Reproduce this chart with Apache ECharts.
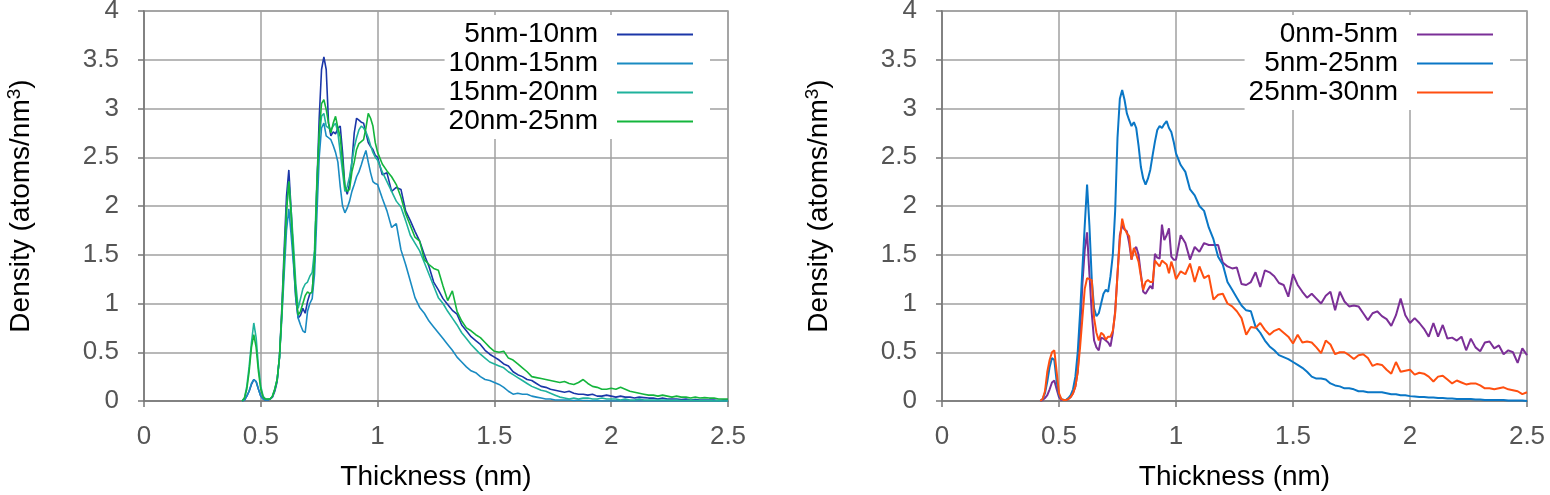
<!DOCTYPE html>
<html><head><meta charset="utf-8">
<script src="https://cdn.jsdelivr.net/npm/echarts@6/dist/echarts.min.js"></script>
<style>html,body{margin:0;padding:0;background:#fff}#c{width:1550px;height:495px}</style>
</head><body><div id="c"></div>
<script>
// Thickness (nm) sample positions
const thickness = [
0.42,0.43,0.44,0.45,0.46,0.47,0.48,0.49,0.50,0.51,
0.52,0.53,0.54,0.55,0.56,0.57,0.58,0.59,0.60,0.61,
0.62,0.63,0.64,0.65,0.66,0.67,0.68,0.69,0.70,0.71,
0.72,0.73,0.74,0.75,0.76,0.77,0.78,0.79,0.80,0.81,
0.82,0.83,0.84,0.85,0.86,0.87,0.88,0.89,0.90,0.91,
0.92,0.93,0.94,0.95,0.96,0.97,0.98,0.99,1.00,
1.02,1.04,1.06,1.08,1.10,1.12,1.14,1.16,1.18,1.20,
1.22,1.24,1.26,1.28,1.30,1.32,1.34,1.36,1.38,1.40,
1.42,1.44,1.46,1.48,1.50,1.52,1.54,1.56,1.58,1.60,
1.62,1.64,1.66,1.68,1.70,1.72,1.74,1.76,1.78,1.80,
1.82,1.84,1.86,1.88,1.90,1.92,1.94,1.96,1.98,2.00,
2.02,2.04,2.06,2.08,2.10,2.12,2.14,2.16,2.18,2.20,
2.22,2.24,2.26,2.28,2.30,2.32,2.34,2.36,2.38,2.40,
2.42,2.44,2.46,2.48,2.50];

// Left panel
const d5to10 = [
0,0.01,0.05,0.10,0.17,0.22,0.20,0.12,0.05,0.02,
0.01,0.01,0.02,0.04,0.10,0.20,0.45,0.95,1.55,2.10,
2.37,1.95,1.45,1.05,0.85,0.88,0.95,0.90,1.02,1.10,
1.12,1.45,2.20,2.90,3.40,3.53,3.40,2.85,2.72,2.76,
2.74,2.80,2.82,2.55,2.20,2.12,2.23,2.45,2.75,2.90,
2.88,2.86,2.85,2.75,2.65,2.61,2.58,2.52,2.50,
2.32,2.34,2.15,2.19,2.17,1.95,1.85,1.74,1.64,1.50,
1.38,1.22,1.14,1.05,0.99,0.93,0.89,0.78,0.72,0.66,
0.62,0.58,0.52,0.48,0.45,0.42,0.38,0.36,0.30,0.27,
0.25,0.22,0.21,0.18,0.15,0.14,0.12,0.11,0.10,0.09,
0.10,0.08,0.07,0.07,0.06,0.07,0.05,0.05,0.06,0.05,
0.04,0.05,0.04,0.04,0.03,0.04,0.035,0.03,0.03,0.02,
0.03,0.02,0.02,0.02,0.015,0.02,0.01,0.015,0.01,0.01,
0.01,0.01,0.005,0.01,0.01];
const d10to15 = [
0,0.01,0.05,0.10,0.18,0.22,0.20,0.12,0.05,0.02,
0.01,0.01,0.02,0.05,0.12,0.22,0.45,0.85,1.30,1.75,
1.97,1.70,1.40,1.05,0.85,0.78,0.72,0.70,0.92,1.00,
1.05,1.30,1.90,2.50,2.80,2.85,2.72,2.70,2.68,2.62,
2.55,2.45,2.20,2.00,1.93,1.98,2.05,2.15,2.22,2.30,
2.35,2.42,2.50,2.57,2.45,2.34,2.25,2.23,2.22,
2.08,1.95,1.78,1.82,1.55,1.40,1.23,1.06,0.96,0.90,
0.82,0.76,0.70,0.64,0.58,0.52,0.45,0.40,0.35,0.31,
0.29,0.25,0.22,0.21,0.19,0.17,0.14,0.10,0.07,0.08,
0.07,0.07,0.05,0.04,0.03,0.02,0.02,0.01,0.01,0.01,
0.01,0.005,0.01,0.005,0.005,0,0.005,0,0,0,
0,0,0,0,0,0,0,0,0,0,
0,0,0,0,0,0,0,0,0,0,
0,0,0,0,0];
const d15to20 = [
0,0.03,0.15,0.35,0.60,0.80,0.65,0.35,0.15,0.05,
0.02,0.02,0.02,0.05,0.12,0.22,0.45,0.90,1.45,1.95,
2.25,1.95,1.60,1.20,0.95,1.05,1.15,1.20,1.22,1.28,
1.32,1.55,2.25,2.70,2.92,2.95,2.82,2.80,2.78,2.82,
2.85,2.75,2.55,2.35,2.15,2.20,2.30,2.45,2.60,2.70,
2.78,2.82,2.80,2.76,2.70,2.62,2.55,2.50,2.47,
2.35,2.25,2.15,2.05,1.99,1.85,1.70,1.62,1.54,1.42,
1.30,1.18,1.06,1.00,0.92,0.85,0.78,0.70,0.64,0.58,
0.53,0.48,0.44,0.40,0.38,0.36,0.34,0.30,0.27,0.24,
0.21,0.18,0.15,0.13,0.11,0.10,0.08,0.06,0.04,0.03,
0.02,0.03,0.02,0.03,0.03,0.02,0.02,0.03,0.02,0.02,
0.02,0.01,0.02,0.01,0.01,0.02,0.01,0.01,0.01,0.01,
0.01,0.01,0.005,0.01,0.005,0.005,0.01,0.005,0.005,0.005,
0.005,0,0.005,0,0];
const d20to25 = [
0,0.03,0.12,0.30,0.55,0.68,0.55,0.30,0.12,0.04,
0.02,0.02,0.02,0.05,0.12,0.22,0.45,0.90,1.45,1.95,
2.25,1.90,1.50,1.10,0.88,0.92,1.00,1.08,1.12,1.10,
1.12,1.45,2.20,2.75,3.05,3.09,2.99,2.85,2.75,2.85,
2.92,2.80,2.71,2.45,2.20,2.15,2.17,2.35,2.45,2.58,
2.64,2.66,2.68,2.80,2.95,2.90,2.82,2.65,2.55,
2.43,2.36,2.30,2.22,2.09,1.92,1.80,1.68,1.64,1.45,
1.40,1.36,1.34,1.18,1.03,1.13,0.92,0.82,0.75,0.72,
0.68,0.65,0.60,0.55,0.51,0.50,0.51,0.44,0.42,0.38,
0.34,0.30,0.25,0.24,0.23,0.22,0.21,0.20,0.19,0.20,
0.18,0.17,0.19,0.22,0.18,0.15,0.14,0.12,0.12,0.13,
0.12,0.14,0.12,0.10,0.09,0.08,0.07,0.06,0.06,0.05,
0.06,0.05,0.04,0.05,0.04,0.04,0.03,0.04,0.03,0.035,
0.03,0.03,0.02,0.02,0.02];

// Right panel
const d0to5 = [
0,0.01,0.03,0.06,0.12,0.19,0.21,0.12,0.04,0.01,
0.01,0.01,0.02,0.04,0.08,0.15,0.30,0.70,1.20,1.55,
1.73,1.30,0.90,0.62,0.55,0.52,0.65,0.64,0.62,0.60,
0.56,0.70,0.92,1.30,1.70,1.80,1.76,1.74,1.62,1.45,
1.55,1.58,1.50,1.30,1.12,1.10,1.14,1.18,1.15,1.51,
1.47,1.46,1.81,1.65,1.70,1.77,1.48,1.45,1.45,
1.70,1.62,1.45,1.58,1.53,1.62,1.60,1.60,1.60,1.42,
1.38,1.36,1.37,1.20,1.19,1.22,1.32,1.17,1.34,1.32,
1.28,1.21,1.19,1.07,1.30,1.19,1.12,1.06,1.10,1.05,
1.00,1.08,1.12,0.93,1.12,1.02,0.97,0.98,0.97,0.90,
0.83,0.90,0.92,0.87,0.84,0.77,0.88,1.05,0.88,0.80,
0.85,0.80,0.74,0.66,0.80,0.66,0.78,0.64,0.65,0.62,
0.66,0.52,0.64,0.55,0.51,0.60,0.61,0.54,0.57,0.48,
0.52,0.50,0.39,0.54,0.47];
const d5to25 = [
0,0.02,0.08,0.20,0.35,0.44,0.42,0.20,0.06,0.02,
0.01,0.01,0.03,0.06,0.12,0.25,0.50,0.90,1.35,1.80,
2.22,1.80,1.25,0.95,0.87,0.90,1.00,1.10,1.14,1.12,
1.28,1.50,1.95,2.70,3.10,3.19,3.09,2.95,2.88,2.82,
2.86,2.80,2.62,2.40,2.28,2.22,2.28,2.37,2.52,2.66,
2.78,2.82,2.80,2.84,2.87,2.80,2.76,2.66,2.54,
2.42,2.35,2.17,2.11,2.00,1.95,1.78,1.66,1.48,1.40,
1.22,1.14,1.06,0.98,0.93,0.92,0.76,0.70,0.62,0.56,
0.52,0.47,0.45,0.43,0.40,0.37,0.34,0.30,0.25,0.23,
0.23,0.22,0.18,0.16,0.15,0.13,0.13,0.12,0.10,0.10,
0.09,0.09,0.09,0.09,0.08,0.07,0.07,0.06,0.06,0.05,
0.045,0.04,0.04,0.035,0.035,0.03,0.03,0.025,0.025,0.02,
0.02,0.02,0.02,0.015,0.015,0.01,0.01,0.01,0.01,0.01,
0.005,0.005,0.005,0.005,0];
const d25to30 = [
0,0.02,0.10,0.30,0.42,0.50,0.52,0.30,0.08,0.02,
0.01,0.01,0.02,0.04,0.08,0.15,0.30,0.55,0.85,1.15,
1.26,1.25,1.24,0.85,0.70,0.62,0.70,0.68,0.63,0.66,
0.66,0.72,0.90,1.30,1.65,1.87,1.77,1.72,1.69,1.45,
1.57,1.50,1.43,1.28,1.14,1.22,1.24,1.22,1.22,1.44,
1.41,1.38,1.44,1.42,1.40,1.31,1.43,1.35,1.25,
1.33,1.30,1.41,1.22,1.38,1.26,1.29,1.04,1.09,1.10,
1.00,0.97,0.92,0.85,0.68,0.76,0.75,0.80,0.73,0.68,
0.72,0.74,0.70,0.66,0.59,0.68,0.60,0.61,0.60,0.55,
0.49,0.62,0.58,0.48,0.50,0.50,0.47,0.43,0.47,0.48,
0.44,0.36,0.38,0.37,0.32,0.28,0.40,0.30,0.31,0.32,
0.27,0.29,0.28,0.25,0.20,0.25,0.26,0.22,0.18,0.21,
0.19,0.17,0.18,0.18,0.16,0.13,0.13,0.12,0.13,0.14,
0.12,0.11,0.10,0.07,0.09];

const leftNames = ['5nm-10nm','10nm-15nm','15nm-20nm','20nm-25nm'];
const leftData = [d5to10, d10to15, d15to20, d20to25];
const leftColors = ['#1b36a8','#1a8bc2','#1fb29c','#14b53c'];
const rightNames = ['0nm-5nm','5nm-25nm','25nm-30nm'];
const rightData = [d0to5, d5to25, d25to30];
const rightColors = ['#7b2f97','#0a77c6','#ff4f10'];

const FONT = 'Liberation Sans, Arial, sans-serif';
const pair = arr => thickness.map((x, i) => [x, arr[i]]);

function xAxis(idx) {
  return {
    gridIndex: idx, type: 'value', min: 0, max: 2.5, interval: 0.5,
    name: 'Thickness (nm)', nameLocation: 'middle', nameGap: 62,
    nameTextStyle: {fontSize: 28, color: '#000', fontFamily: FONT},
    axisLine: {show: true, lineStyle: {color: '#777', width: 1.5}},
    axisTick: {show: true, length: 6, lineStyle: {color: '#777', width: 1.5}},
    axisLabel: {fontSize: 26, color: '#555', margin: 23, fontFamily: FONT},
    splitLine: {show: true, lineStyle: {color: '#a0a0a0', width: 1.5}}
  };
}
function yAxis(idx) {
  return {
    gridIndex: idx, type: 'value', min: 0, max: 4, interval: 0.5,
    name: '{a|Density (atoms/nm}{b|3}{a|)}', nameLocation: 'middle', nameGap: 106,
    nameTextStyle: {fontFamily: FONT, color: '#000',
      rich: {a: {fontSize: 28, fontFamily: FONT, color: '#000'},
             b: {fontSize: 19, fontFamily: FONT, color: '#000', verticalAlign: 'top', padding: [0,0,14,0]}}},
    axisLine: {show: true, lineStyle: {color: '#777', width: 1.5}},
    axisTick: {show: true, length: 6, lineStyle: {color: '#777', width: 1.5}},
    axisLabel: {fontSize: 26, color: '#555', margin: 25, fontFamily: FONT},
    splitLine: {show: true, lineStyle: {color: '#a0a0a0', width: 1.5}}
  };
}
function legend(names, right) {
  return {
    data: names, orient: 'vertical', align: 'right', right: right, top: 15,
    icon: 'rect', itemWidth: 76, itemHeight: 2, itemGap: 0, padding: [5, 17, 3, 4],
    backgroundColor: '#fff', selectedMode: false,
    textStyle: {fontSize: 28, color: '#000', fontFamily: FONT, lineHeight: 29, padding: [0, 14, 0, 0]}
  };
}

const series = [];
leftNames.forEach((n, i) => series.push({
  name: n, type: 'line', xAxisIndex: 0, yAxisIndex: 0, symbol: 'none',
  data: pair(leftData[i]), color: leftColors[i],
  lineStyle: {width: 1.6, color: leftColors[i]}, animation: false
}));
rightNames.forEach((n, i) => series.push({
  name: n, type: 'line', xAxisIndex: 1, yAxisIndex: 1, symbol: 'none',
  data: pair(rightData[i]), color: rightColors[i],
  lineStyle: {width: 2, color: rightColors[i]}, animation: false
}));

const chart = echarts.init(document.getElementById('c'), null, {renderer: 'canvas'});
chart.setOption({
  animation: false,
  backgroundColor: '#fff',
  textStyle: {fontFamily: FONT},
  grid: [
    {left: 144, right: 822, top: 11, bottom: 94, show: true, borderColor: '#999', borderWidth: 1.5,
     containLabel: false, outerBoundsMode: 'none'},
    {left: 942, right: 23, top: 11, bottom: 94, show: true, borderColor: '#999', borderWidth: 1.5,
     containLabel: false, outerBoundsMode: 'none'}
  ],
  xAxis: [xAxis(0), xAxis(1)],
  yAxis: [yAxis(0), yAxis(1)],
  legend: [legend(leftNames, 840), legend(rightNames, 40)],
  series: series
});
</script></body></html>
